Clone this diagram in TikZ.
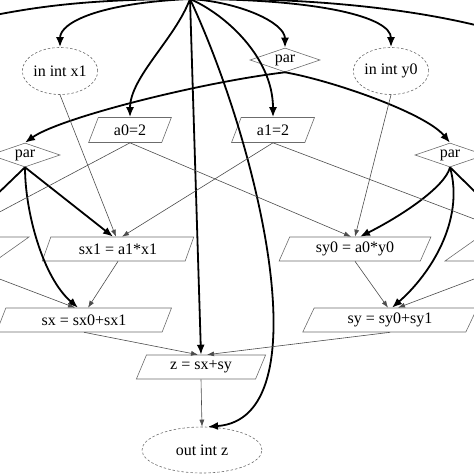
\documentclass[tikz,border=0pt]{standalone}
\usepackage{fontspec}
\setmainfont{Liberation Serif}
\usetikzlibrary{arrows.meta,shapes.geometric}

\begin{document}
\begin{tikzpicture}[
        x=1pt, y=-1pt,
        font=\fontsize{16}{18}\selectfont,
        io/.style={ellipse, draw=gray!85!black, dash pattern=on 2.5pt off 2pt, line width=0.6pt, minimum width=73pt, minimum height=47pt, inner sep=0pt},
        assign/.style={trapezium, trapezium left angle=68, trapezium right angle=112, trapezium stretches=true, draw=gray!85!black, line width=0.6pt, inner sep=1pt, minimum height=24pt},
        parsplit/.style={diamond, draw=gray!85!black, line width=0.6pt, aspect=3, minimum width=70pt, minimum height=24pt, inner sep=0pt},
        flow/.style={draw=black, line width=1.8pt, -{Latex[length=10pt,width=8pt]}},
        dep/.style={draw=black!70, line width=0.6pt, -{Latex[length=7pt,width=5pt]}}
    ]
        \useasboundingbox (0,0) rectangle (474,474);
        \clip (0,0) rectangle (474,474);

        % entry point and edges that leave the frame
        \coordinate (root) at (190,-1);
        \coordinate (offwest) at (-40,22);
        \coordinate (offeast) at (540,45);

        \node[io] (inxone) at (60,71) {in int x1};
        \node[io] (inyzero) at (391,71) {in int y0};
        \node[parsplit] (partop) at (285,60) {par};
        \node[parsplit] (parleft) at (25,155) {par};
        \node[parsplit] (parright) at (450,155) {par};
        \node[assign, minimum width=83pt, minimum height=25pt] (azero) at (130,130) {a0=2};
        \node[assign, minimum width=83pt, minimum height=25pt] (aone) at (273,130) {a1=2};
        \node[assign, minimum width=152pt] (sxzero) at (-47,249) {};
        \node[assign, minimum width=152pt] (sxone) at (118,249) {sx1 = a1*x1};
        \node[assign, minimum width=152pt] (syzero) at (355,249) {sy0 = a0*y0};
        \node[assign, minimum width=152pt] (syone) at (521,249) {};
        \node[assign, minimum width=175pt] (sx) at (84,320) {sx = sx0+sx1};
        \node[assign, minimum width=175pt] (sy) at (390,320) {sy = sy0+sy1};
        \node[assign, minimum width=130pt] (z) at (201,367) {z = sx+sy};
        \node[io, minimum width=120pt, minimum height=46pt] (outz) at (202,450) {out int z};

        % control flow
        \draw[flow] (root) .. controls +(-120,0) and +(60,-12) .. (offwest);
        \draw[flow] (root) .. controls +(150,-2) and +(-80,-30) .. (offeast);
        \draw[flow] (root) .. controls +(-90,4) and +(0,-25) .. (inxone.north);
        \draw[flow] (root) .. controls +(-15,40) and +(0,-40) .. (azero.north);
        \draw[flow] (root) -- (z.north);
        \draw[flow] (root) .. controls +(70,150) and +(115,-8) .. ([xshift=6pt]outz.north);
        \draw[flow] (root) .. controls +(35,15) and +(0,-60) .. (aone.north);
        \draw[flow] (root) .. controls +(50,3) and +(0,-25) .. (partop.north);
        \draw[flow] (root) .. controls +(130,0) and +(0,-30) .. (inyzero.north);
        \draw[flow] (partop.south) .. controls +(-84,10) and +(35,-25) .. (parleft.north);
        \draw[flow] (partop.south) .. controls +(46,8) and +(-25,-30) .. (parright.north);
        \draw[flow] (parleft.south) -- ([xshift=-5pt]sxone.north);
        \draw[flow] (parleft.south) .. controls +(0,45) and +(-35,-30) .. ([xshift=-6pt]sx.north);
        \draw[flow] (parleft.south) -- (sxzero.north);
        \draw[flow] (parright.south) .. controls +(-5,20) and +(40,-20) .. ([xshift=5pt]syzero.north);
        \draw[flow] (parright.south) .. controls +(15,53) and +(38,-33) .. ([xshift=2pt]sy.north);
        \draw[flow] (parright.south) -- (syone.north);

        % data dependencies
        \draw[dep] (inxone.south) -- ([xshift=-2pt]sxone.north);
        \draw[dep] (aone.south) -- ([xshift=4pt]sxone.north);
        \draw[dep] (azero.south) -- (sxzero.north);
        \draw[dep] (azero.south) -- ([xshift=-4pt]syzero.north);
        \draw[dep] (inyzero.south) -- (syzero.north);
        \draw[dep] (aone.south) -- (syone.north);
        \draw[dep] (sxzero.south) -- ([xshift=-9pt]sx.north);
        \draw[dep] (sxone.south) -- ([xshift=4pt]sx.north);
        \draw[dep] (syzero.south) -- ([xshift=-2pt]sy.north);
        \draw[dep] (syone.south) -- ([xshift=8pt]sy.north);
        \draw[dep] (sx.south) -- ([xshift=-3pt]z.north);
        \draw[dep] (sy.south) -- ([xshift=6pt]z.north);
        \draw[dep] (z.south) -- (outz.north);
    \end{tikzpicture}
\end{document}
